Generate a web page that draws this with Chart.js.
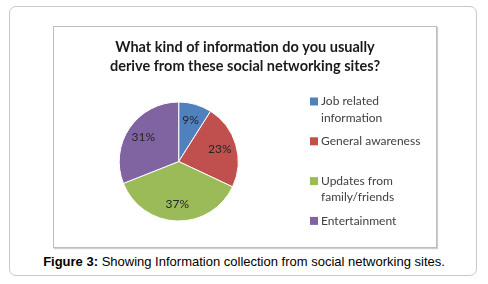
<!DOCTYPE html>
<html>
<head>
<meta charset="utf-8">
<script src="https://cdn.jsdelivr.net/npm/chart.js@4"></script>
<style>
  html, body { margin: 0; padding: 0; background: #fff; }
  body { width: 488px; height: 284px; position: relative; overflow: hidden; }
  #frame {
    position: absolute; left: 9px; top: 6px; width: 468px; height: 270px;
    border: 1px solid #c8c8c8; border-radius: 7px; box-sizing: border-box;
  }
  #box {
    position: absolute; left: 53px; top: 26px; width: 384px; height: 222px;
    border: 1px solid #bdbdbd; box-sizing: border-box;
    box-shadow: 1px 1px 1px #d0d0d0;
  }
  #box canvas { display: block; }
  #caption {
    position: absolute; left: 0; width: 488px; top: 254px; text-align: center;
    font-family: "Liberation Sans", Arial, sans-serif; font-size: 13px; color: #000;
  }
</style>
</head>
<body>
<div id="frame"></div>
<div id="box"><canvas id="pieChart" width="382" height="220"></canvas></div>
<div id="caption"><b>Figure 3:</b> Showing Information collection from social networking sites.</div>

<script>
// chart data
const categories = [
  ["Job related", "information"],
  ["General awareness"],
  ["Updates from", "family/friends"],
  ["Entertainment"]
];
const shares = [9, 23, 37, 31];
const sliceColors = ["#4f81bd", "#c0504d", "#9bbb59", "#8064a2"];
const titleLines = [
  "What kind of information do you usually",
  "derive from these social networking sites?"
];

// title centred on the whole box (the pie sits left of centre)
const boxTitle = {
  id: "boxTitle",
  afterDraw(chart) {
    const ctx = chart.ctx;
    ctx.save();
    ctx.font = "bold 14.5px Lato, sans-serif";
    ctx.fillStyle = "#1a1a1a";
    ctx.textAlign = "center";
    ctx.textBaseline = "middle";
    titleLines.forEach((line, i) => ctx.fillText(line, chart.width / 2, 20 + i * 19));
    ctx.restore();
  }
};

// percent labels inside the slices
const sliceLabels = {
  id: "sliceLabels",
  afterDatasetsDraw(chart) {
    const ctx = chart.ctx;
    const meta = chart.getDatasetMeta(0);
    ctx.save();
    ctx.font = "12px Lato, sans-serif";
    ctx.fillStyle = "#262626";
    ctx.textAlign = "center";
    ctx.textBaseline = "middle";
    meta.data.forEach((arc, i) => {
      const mid = (arc.startAngle + arc.endAngle) / 2;
      const r = arc.outerRadius * 0.72;
      ctx.fillText(shares[i] + "%", arc.x + Math.cos(mid) * r, arc.y + Math.sin(mid) * r);
    });
    ctx.restore();
  }
};

// legend on the right, like the excel one
const sideLegend = {
  id: "sideLegend",
  afterDraw(chart) {
    const ctx = chart.ctx;
    ctx.save();
    ctx.font = "12px Lato, sans-serif";
    ctx.textBaseline = "middle";
    categories.forEach((lines, i) => {
      const y = 74.5 + i * 39.8;
      ctx.fillStyle = sliceColors[i];
      ctx.fillRect(256, y - 4, 8, 8);
      ctx.fillStyle = "#404040";
      lines.forEach((line, j) => ctx.fillText(line, 267, y + j * 16.5));
    });
    ctx.restore();
  }
};

new Chart(document.getElementById("pieChart"), {
  type: "pie",
  data: {
    labels: categories,
    datasets: [{
      data: shares,
      backgroundColor: sliceColors,
      borderColor: "#ffffff",
      borderWidth: 1
    }]
  },
  options: {
    responsive: false,
    animation: false,
    events: [],
    layout: { padding: { left: 10, right: 142.6, top: 74.5, bottom: 25.5 } },
    plugins: {
      legend: { display: false },
      tooltip: { enabled: false },
      title: { display: false }
    }
  },
  plugins: [boxTitle, sliceLabels, sideLegend]
});
</script>
</body>
</html>
